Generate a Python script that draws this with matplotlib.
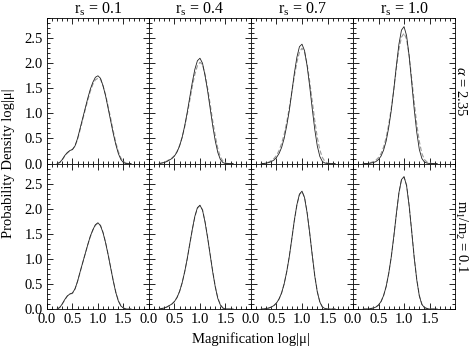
import matplotlib
matplotlib.use("Agg")
import matplotlib.pyplot as plt
import matplotlib.ticker as mticker

plt.rcParams['font.family'] = ['Liberation Serif', 'DejaVu Serif']
plt.rcParams['mathtext.fontset'] = 'custom'
plt.rcParams['mathtext.rm'] = 'Liberation Serif'
plt.rcParams['mathtext.it'] = 'Liberation Serif:italic'

# ─── Data ─────────────────────────────────────────────────────────────────────
R_S = ["0.1", "0.4", "0.7", "1.0"]
ROW_LABELS = [r"$\alpha$ = 2.35", r"m$_\mathregular{1}$/m$_\mathregular{2}$ = 0.1"]

LOGMU = [0.20, 0.25, 0.30, 0.35, 0.40, 0.45, 0.50, 0.55, 0.60, 0.65,
         0.70, 0.75, 0.80, 0.85, 0.90, 0.95, 1.00, 1.05, 1.10, 1.15,
         1.20, 1.25, 1.30, 1.35, 1.40, 1.45, 1.50, 1.55, 1.60, 1.65]

# top row (alpha = 2.35)
SOLID_TOP = [
    [0, 0.02, 0.08, 0.16, 0.22, 0.26, 0.28, 0.35, 0.50, 0.70, 0.90, 1.10, 1.30, 1.48, 1.62,
     1.72, 1.75, 1.70, 1.55, 1.35, 1.10, 0.85, 0.60, 0.38, 0.20, 0.08, 0.02, 0, 0, 0],
    [0, 0.01, 0.02, 0.04, 0.07, 0.10, 0.15, 0.23, 0.35, 0.52, 0.75, 1.02, 1.32, 1.62, 1.88,
     2.05, 2.10, 2.00, 1.75, 1.45, 1.10, 0.75, 0.45, 0.22, 0.08, 0.02, 0, 0, 0, 0],
    [0, 0, 0.01, 0.02, 0.04, 0.07, 0.12, 0.20, 0.32, 0.50, 0.75, 1.05, 1.42, 1.80, 2.12,
     2.33, 2.38, 2.25, 1.95, 1.55, 1.10, 0.68, 0.35, 0.14, 0.04, 0.01, 0, 0, 0, 0],
    [0, 0, 0, 0.01, 0.02, 0.04, 0.08, 0.15, 0.27, 0.45, 0.72, 1.06, 1.48, 1.95, 2.38,
     2.66, 2.73, 2.55, 2.15, 1.62, 1.08, 0.62, 0.28, 0.10, 0.03, 0.01, 0, 0, 0, 0],
]
DASHED_TOP = [
    [0, 0.02, 0.07, 0.15, 0.21, 0.25, 0.28, 0.35, 0.48, 0.67, 0.87, 1.07, 1.26, 1.44, 1.58,
     1.67, 1.70, 1.68, 1.55, 1.37, 1.14, 0.90, 0.65, 0.42, 0.24, 0.11, 0.04, 0.01, 0, 0],
    [0, 0.01, 0.03, 0.05, 0.08, 0.11, 0.16, 0.24, 0.36, 0.52, 0.73, 0.98, 1.26, 1.54, 1.78,
     1.95, 2.02, 1.97, 1.78, 1.50, 1.18, 0.85, 0.55, 0.30, 0.13, 0.05, 0.01, 0, 0, 0],
    [0, 0, 0.01, 0.03, 0.06, 0.10, 0.16, 0.26, 0.40, 0.58, 0.82, 1.10, 1.42, 1.74, 2.02,
     2.22, 2.30, 2.22, 1.98, 1.64, 1.25, 0.86, 0.52, 0.27, 0.12, 0.04, 0.01, 0, 0, 0],
    [0, 0, 0, 0.02, 0.04, 0.07, 0.12, 0.20, 0.33, 0.52, 0.78, 1.10, 1.48, 1.90, 2.28,
     2.52, 2.60, 2.48, 2.15, 1.70, 1.22, 0.78, 0.44, 0.20, 0.08, 0.03, 0.01, 0, 0, 0],
]

# bottom row (m1/m2 = 0.1)
SOLID_BOT = [
    [0, 0.03, 0.10, 0.19, 0.26, 0.30, 0.32, 0.40, 0.55, 0.74, 0.92, 1.10, 1.28, 1.45, 1.58,
     1.68, 1.72, 1.66, 1.52, 1.32, 1.08, 0.82, 0.56, 0.33, 0.16, 0.06, 0.02, 0, 0, 0],
    [0, 0.01, 0.02, 0.04, 0.07, 0.10, 0.15, 0.23, 0.35, 0.52, 0.74, 1.00, 1.30, 1.59, 1.85,
     2.02, 2.07, 1.97, 1.73, 1.42, 1.08, 0.74, 0.44, 0.21, 0.08, 0.02, 0, 0, 0, 0],
    [0, 0, 0.01, 0.02, 0.04, 0.07, 0.12, 0.20, 0.32, 0.50, 0.74, 1.04, 1.40, 1.77, 2.08,
     2.29, 2.35, 2.22, 1.92, 1.52, 1.08, 0.66, 0.34, 0.14, 0.04, 0.01, 0, 0, 0, 0],
    [0, 0, 0, 0.01, 0.02, 0.04, 0.08, 0.15, 0.27, 0.45, 0.71, 1.04, 1.45, 1.90, 2.32,
     2.58, 2.64, 2.46, 2.06, 1.55, 1.02, 0.58, 0.26, 0.09, 0.03, 0.01, 0, 0, 0, 0],
]
DASHED_BOT = [
    [0, 0.03, 0.10, 0.18, 0.26, 0.30, 0.31, 0.40, 0.55, 0.73, 0.92, 1.10, 1.28, 1.44, 1.57,
     1.67, 1.71, 1.67, 1.53, 1.33, 1.09, 0.83, 0.57, 0.34, 0.17, 0.07, 0.02, 0, 0, 0],
    [0, 0.01, 0.02, 0.04, 0.07, 0.10, 0.15, 0.23, 0.35, 0.52, 0.74, 1.00, 1.29, 1.58, 1.84,
     2.01, 2.06, 1.98, 1.74, 1.43, 1.09, 0.75, 0.45, 0.22, 0.09, 0.02, 0, 0, 0, 0],
    [0, 0, 0.01, 0.02, 0.04, 0.07, 0.12, 0.20, 0.32, 0.50, 0.74, 1.04, 1.39, 1.76, 2.07,
     2.28, 2.34, 2.23, 1.93, 1.53, 1.09, 0.67, 0.35, 0.14, 0.04, 0.01, 0, 0, 0, 0],
    [0, 0, 0, 0.01, 0.02, 0.04, 0.08, 0.15, 0.27, 0.45, 0.71, 1.04, 1.44, 1.89, 2.31,
     2.57, 2.63, 2.47, 2.07, 1.56, 1.03, 0.59, 0.27, 0.10, 0.03, 0.01, 0, 0, 0, 0],
]
# ──────────────────────────────────────────────────────────────────────────────

fig, axes = plt.subplots(2, 4, figsize=(4.74, 3.48), dpi=100, sharex=True, sharey=True)
fig.subplots_adjust(left=0.099, right=0.960, top=0.948, bottom=0.112, wspace=0, hspace=0)

rows = [(SOLID_TOP, DASHED_TOP), (SOLID_BOT, DASHED_BOT)]

for r, (solid, dashed) in enumerate(rows):
    for c in range(4):
        ax = axes[r, c]
        ax.plot(LOGMU, dashed[c], color='#999999', lw=0.8, ls=(0, (4, 2)))
        ax.plot(LOGMU, solid[c], color='#222222', lw=0.6)
        ax.set_xlim(0, 2.0)
        ax.set_ylim(0, 2.9)
        ax.xaxis.set_major_locator(mticker.FixedLocator([0.0, 0.5, 1.0, 1.5]))
        ax.xaxis.set_minor_locator(mticker.MultipleLocator(0.1))
        ax.yaxis.set_major_locator(mticker.MultipleLocator(0.5))
        ax.yaxis.set_minor_locator(mticker.MultipleLocator(0.1))
        ax.xaxis.set_major_formatter(mticker.FormatStrFormatter('%.1f'))
        ax.yaxis.set_major_formatter(mticker.FormatStrFormatter('%.1f'))
        ax.tick_params(which='both', direction='in', top=True, right=True,
                       labelsize=10.5, width=0.6, pad=3)
        ax.tick_params(which='major', length=4)
        ax.tick_params(which='minor', length=2)
        for sp in ax.spines.values():
            sp.set_linewidth(0.6)
        if r == 0:
            ax.set_title(r"r$_\mathregular{s}$ = " + R_S[c], fontsize=11.5, pad=3)
        if c == 3:
            ax.text(1.06, 0.5, ROW_LABELS[r], transform=ax.transAxes, rotation=-90,
                    ha='center', va='center', fontsize=10.5)

fig.text(0.53, 0.025, "Magnification log|\u03bc|", ha='center', va='center', fontsize=10.5)
fig.text(0.018, 0.53, "Probability Density log|\u03bc|", ha='center', va='center',
         rotation=90, fontsize=10.5)

plt.savefig("out.png", dpi=100)
